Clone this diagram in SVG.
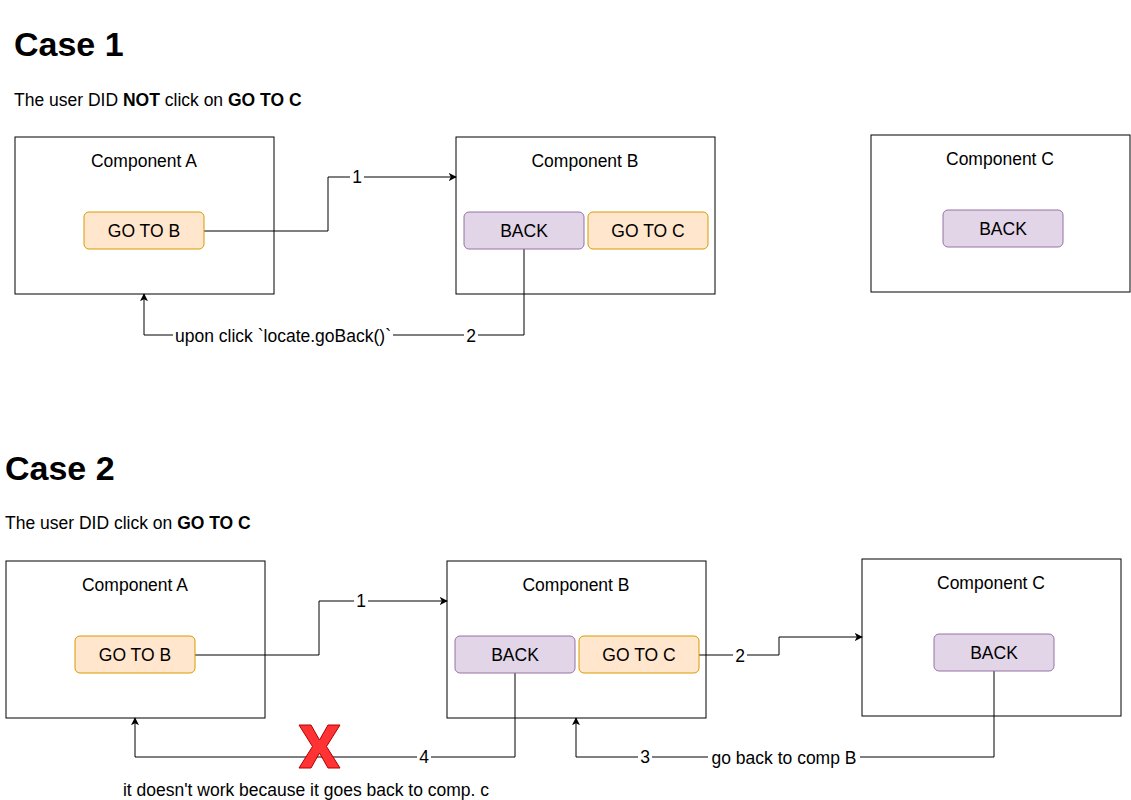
<svg xmlns="http://www.w3.org/2000/svg" width="1131" height="800" viewBox="0 0 1131 800">
<style>
text{font-family:"Liberation Sans",Arial,sans-serif;fill:#000}
.t{font-size:34px;font-weight:bold}
.s{font-size:17.5px}
.comp{fill:#fff;stroke:#000;stroke-width:1}
.lbl{font-size:17.5px;text-anchor:middle}
.org{fill:#ffe6cc;stroke:#d79b00;stroke-width:1}
.pur{fill:#e1d5e7;stroke:#9673a6;stroke-width:1}
.e{fill:none;stroke:#000;stroke-width:1}
.el{font-size:17.5px;text-anchor:middle}
.bg{fill:#fff}
</style>
<defs>
<marker id="arr" viewBox="0 0 10 10" refX="9" refY="5" markerWidth="8" markerHeight="8" markerUnits="userSpaceOnUse" orient="auto">
<path d="M0,0 L10,5 L0,10 L2.5,5 Z" fill="#000"/>
</marker>
</defs>
<text class="t" x="14" y="56">Case 1</text>
<text class="s" x="14" y="106">The user DID <tspan font-weight="bold">NOT</tspan> click on <tspan font-weight="bold">GO TO C</tspan></text>
<text class="t" x="5" y="480">Case 2</text>
<text class="s" x="5" y="529">The user DID click on <tspan font-weight="bold">GO TO C</tspan></text>

<g id="caseA1"><rect class="comp" x="15" y="137" width="259" height="157"/><text class="lbl" x="144" y="167">Component A</text></g>
<g id="caseB1"><rect class="comp" x="456" y="137" width="259" height="157"/><text class="lbl" x="585" y="167">Component B</text></g>
<g id="caseC1"><rect class="comp" x="871" y="135" width="259" height="157"/><text class="lbl" x="1000" y="165">Component C</text></g>
<g id="caseA2"><rect class="comp" x="6" y="561" width="259" height="157"/><text class="lbl" x="135" y="591">Component A</text></g>
<g id="caseB2"><rect class="comp" x="447" y="561" width="259" height="157"/><text class="lbl" x="576" y="591">Component B</text></g>
<g id="caseC2"><rect class="comp" x="862" y="559" width="259" height="157"/><text class="lbl" x="991" y="589">Component C</text></g>

<g id="connectors">
<path class="e" d="M204,231 H328 V177 H456" marker-end="url(#arr)"/>
<rect class="bg" x="350" y="168" width="14" height="18"/>
<text class="el" x="357" y="183">1</text>
<path class="e" d="M524,249 V335 H144 V294" marker-end="url(#arr)"/>
<rect class="bg" x="173" y="326" width="220" height="20"/>
<text class="el" x="283" y="342">upon click `locate.goBack()`</text>
<rect class="bg" x="464" y="326" width="14" height="20"/>
<text class="el" x="471" y="342">2</text>

<path class="e" d="M195,655 H319 V601 H447" marker-end="url(#arr)"/>
<rect class="bg" x="354" y="592" width="14" height="18"/>
<text class="el" x="361" y="607">1</text>
<path class="e" d="M699,655 H779 V637 H862" marker-end="url(#arr)"/>
<rect class="bg" x="733" y="646" width="14" height="18"/>
<text class="el" x="740" y="662">2</text>
<path class="e" d="M994,671 V757 H576 V718" marker-end="url(#arr)"/>
<rect class="bg" x="638" y="748" width="14" height="18"/>
<text class="el" x="645" y="763">3</text>
<rect class="bg" x="708" y="748" width="152" height="20"/>
<text class="el" x="784" y="764">go back to comp B</text>
<path class="e" d="M515,673 V757 H135 V718" marker-end="url(#arr)"/>
<rect class="bg" x="417" y="748" width="14" height="18"/>
<text class="el" x="424" y="763">4</text>
</g>

<g id="caseA1-gotoB"><rect class="org" x="84" y="212" width="120" height="37" rx="5"/><text class="lbl" x="144" y="237">GO TO B</text></g>
<g id="caseB1-back"><rect class="pur" x="464" y="212" width="120" height="37" rx="5"/><text class="lbl" x="524" y="237">BACK</text></g>
<g id="caseB1-gotoC"><rect class="org" x="588" y="212" width="120" height="37" rx="5"/><text class="lbl" x="648" y="237">GO TO C</text></g>
<g id="caseC1-back"><rect class="pur" x="943" y="210" width="120" height="37" rx="5"/><text class="lbl" x="1003" y="235">BACK</text></g>
<g id="caseA2-gotoB"><rect class="org" x="75" y="636" width="120" height="37" rx="5"/><text class="lbl" x="135" y="661">GO TO B</text></g>
<g id="caseB2-back"><rect class="pur" x="455" y="636" width="120" height="37" rx="5"/><text class="lbl" x="515" y="661">BACK</text></g>
<g id="caseB2-gotoC"><rect class="org" x="579" y="636" width="120" height="37" rx="5"/><text class="lbl" x="639" y="661">GO TO C</text></g>
<g id="caseC2-back"><rect class="pur" x="934" y="634" width="120" height="37" rx="5"/><text class="lbl" x="994" y="659">BACK</text></g>

<g id="redX"><polygon points="299,725 311,725 319.5,740 328,725 340,725 326.5,746.5 340,768 328,768 319.5,753 311,768 299,768 312.5,746.5" fill="#ff3333" stroke="#b20000" stroke-width="1"/></g>
<g id="note"><text class="el" x="306" y="796">it doesn't work because it goes back to comp. c</text></g>
</svg>
